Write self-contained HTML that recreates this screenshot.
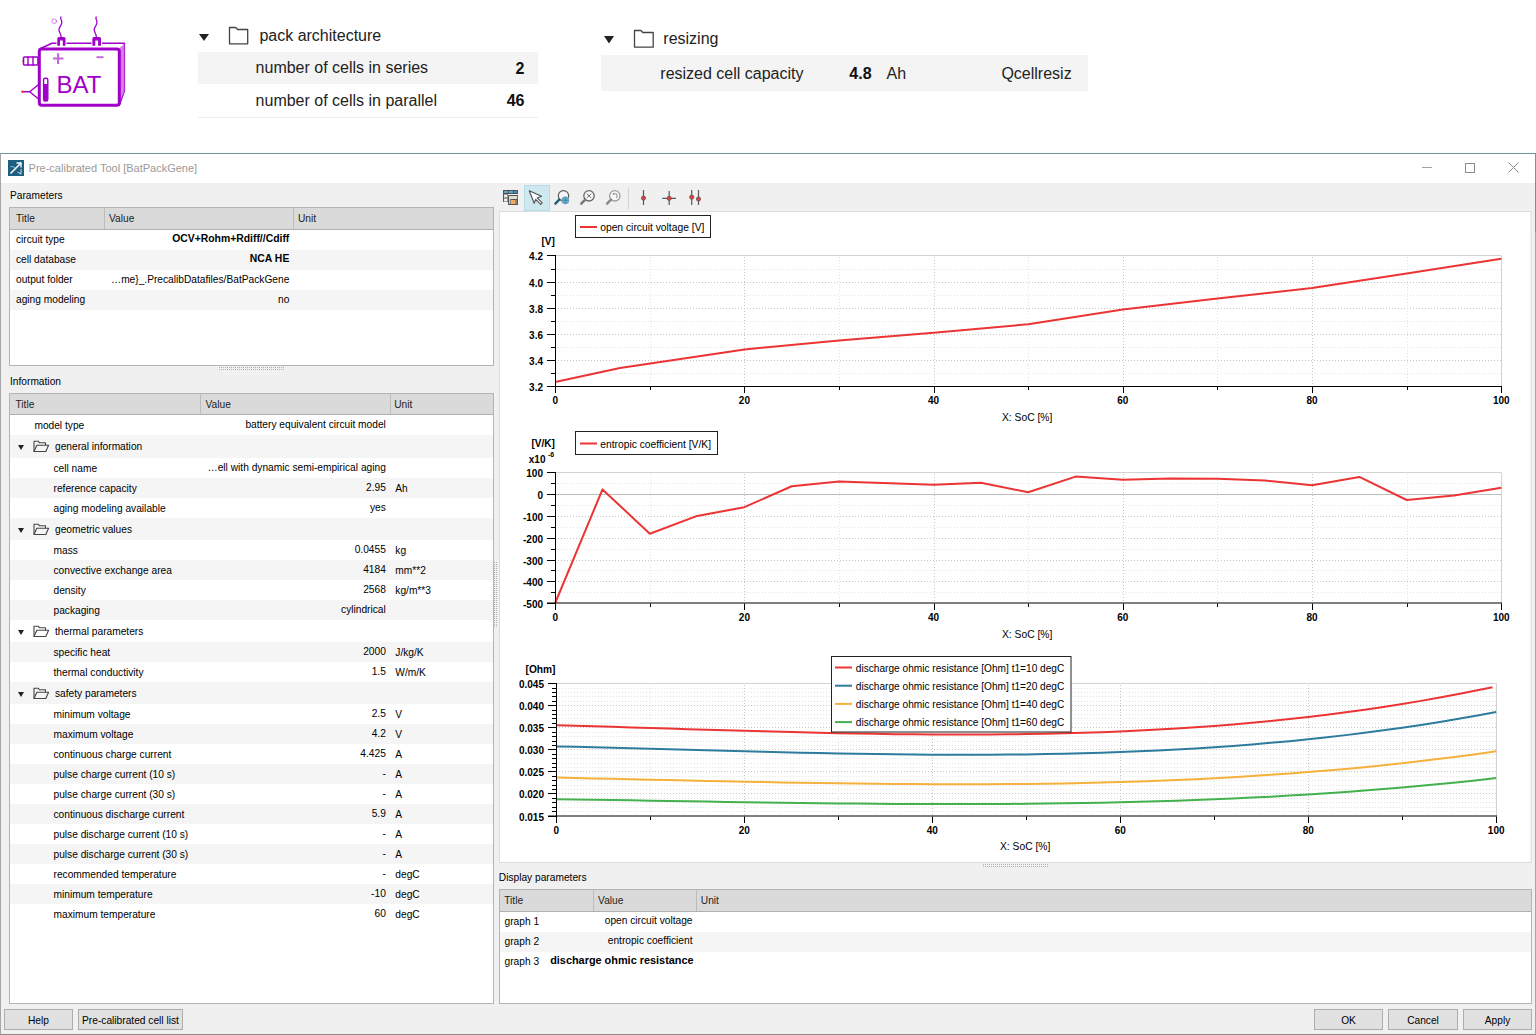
<!DOCTYPE html>
<html><head><meta charset="utf-8"><style>
html,body{margin:0;padding:0;}
body{width:1536px;height:1035px;overflow:hidden;position:relative;background:#fff;font-family:"Liberation Sans", sans-serif;}
.t{position:absolute;white-space:pre;line-height:1;}
.r{position:absolute;}
svg{position:absolute;overflow:visible;}
</style></head><body>

<svg style="left:0;top:0" width="140" height="120" viewBox="0 0 140 120">
<g fill="none" stroke="#a100c9" stroke-linejoin="round" stroke-linecap="round">
<path d="M39.5 49 L52 43.3 L124.3 43.3 L124.3 91 L119.3 105" stroke-width="1.6"/>
<path d="M119.5 48 L124.3 44 L124.3 91 L119.5 103 Z" fill="#d27ce6" stroke="none"/>
<rect x="39.3" y="49" width="80" height="56.3" rx="2.5" stroke-width="3"/>
<rect x="56.5" y="40" width="10" height="6" fill="#fff" stroke="none"/><path d="M57.3 45.8 V38.5 Q57.3 37 58.8 37 H64 Q65.5 37 65.5 38.5 V45.8 H62.8 V40.6 H60 V45.8 Z" fill="#a100c9" stroke="none"/>
<rect x="91.5" y="40" width="10.5" height="6" fill="#fff" stroke="none"/><path d="M92.4 45.8 V38.5 Q92.4 37 93.9 37 H99.5 Q101 37 101 38.5 V45.8 H98.1 V40.6 H95.3 V45.8 Z" fill="#a100c9" stroke="none"/>
<path d="M61.2 37 C61 33 58.5 32 59 29 C59.5 26 62 25.5 61.8 22 C61.6 19.5 59.8 18.5 61 17" stroke-width="1.3"/>
<path d="M96.4 37 C96.2 33 93.7 32 94.2 29 C94.7 26 97.2 25.5 97 22 C96.8 19.5 95 18.5 96.2 17" stroke-width="1.3"/>
<circle cx="54.2" cy="21.2" r="2.3" stroke-width="0.8" opacity="0.6"/>
<path d="M53 58.5 H63.5 M58.1 53.2 V64" stroke-width="2.2" stroke="#c568dc" stroke-linecap="butt"/>
<path d="M96.5 57.2 H103.5" stroke-width="2" stroke="#c568dc" stroke-linecap="butt"/>
<rect x="23.5" y="57" width="14.5" height="8" rx="1" stroke-width="1.6"/>
<path d="M28 57 V65 M33 57 V65" stroke-width="1.4"/>
<path d="M38 85 L29.7 91.7 L38 98.5 M22.5 91.7 H29.7" stroke-width="1.4"/>
<rect x="43.6" y="78.3" width="4.2" height="22.8" rx="1.5" stroke-width="1.4"/>
<rect x="43.6" y="84" width="4.2" height="17" rx="1" fill="#a100c9" stroke="none"/>
</g>
<circle cx="22.3" cy="91.7" r="1.1" fill="#ff2020"/>
<circle cx="23" cy="61" r="0.8" fill="#7a3a00"/>
<text x="56.5" y="92.7" font-family="Liberation Sans" font-size="24.5" fill="#a100c9" textLength="45" lengthAdjust="spacingAndGlyphs">BAT</text>
</svg>
<svg style="left:198.4px;top:33.0px" width="12" height="9"><path d="M1 1 H11 L6.0 8 Z" fill="#222"/></svg>
<svg style="left:227.6px;top:26.2px" width="21.2" height="19.3"><path d="M1.5 17.8 V1.5 H7.7 L9.6 3.5 H19.7 V17.8 Z" fill="none" stroke="#444" stroke-width="1.3" stroke-linejoin="round"/></svg>
<div class="t" style="left:259.40px;top:28.26px;font-size:16px;font-weight:400;color:#222;">pack architecture</div>
<div class="r" style="left:198px;top:52px;width:340px;height:32px;background:#f4f4f4;"></div>
<div class="t" style="left:255.60px;top:60.16px;font-size:16px;font-weight:400;color:#222;">number of cells in series</div>
<div class="t" style="right:1011.50px;top:60.66px;font-size:16px;font-weight:700;color:#111;text-align:right;">2</div>
<div class="t" style="left:255.60px;top:92.56px;font-size:16px;font-weight:400;color:#222;">number of cells in parallel</div>
<div class="t" style="right:1011.50px;top:92.56px;font-size:16px;font-weight:700;color:#111;text-align:right;">46</div>
<div class="r" style="left:198px;top:117px;width:340px;height:1px;background:#ececec;"></div>
<svg style="left:603.2px;top:34.75px" width="12" height="9.5"><path d="M1 1 H11 L6.0 8.5 Z" fill="#222"/></svg>
<svg style="left:632.8px;top:29px" width="21.7" height="19.7"><path d="M1.5 18.2 V1.5 H7.9 L9.8 3.5 H20.2 V18.2 Z" fill="none" stroke="#444" stroke-width="1.3" stroke-linejoin="round"/></svg>
<div class="t" style="left:663.30px;top:31.16px;font-size:16px;font-weight:400;color:#222;">resizing</div>
<div class="r" style="left:601px;top:55px;width:487px;height:36px;background:#f4f4f4;"></div>
<div class="t" style="left:660.30px;top:66.16px;font-size:16px;font-weight:400;color:#222;">resized cell capacity</div>
<div class="t" style="left:849.30px;top:65.76px;font-size:16px;font-weight:700;color:#111;">4.8</div>
<div class="t" style="left:886.60px;top:65.76px;font-size:16px;font-weight:400;color:#222;">Ah</div>
<div class="t" style="left:1001.40px;top:65.76px;font-size:16px;font-weight:400;color:#222;">Qcellresiz</div>
<div class="r" style="left:0px;top:153px;width:1536px;height:882px;background:#f0f0f0;"></div>
<div class="r" style="left:0px;top:154px;width:1536px;height:29px;background:#ffffff;"></div>
<div class="r" style="left:0px;top:153px;width:1536px;height:1px;background:#6f93a5;"></div>
<div class="r" style="left:0px;top:153px;width:1px;height:882px;background:#a6a6a6;"></div>
<div class="r" style="left:1535px;top:153px;width:1px;height:79px;background:#6f93a5;"></div>
<div class="r" style="left:1535px;top:232px;width:1px;height:803px;background:#a6a6a6;"></div>
<div class="r" style="left:0px;top:1034px;width:1536px;height:1px;background:#8c8c8c;"></div>
<svg style="left:8px;top:159.5px" width="16" height="16" viewBox="0 0 16 16">
<rect x="0" y="0" width="16" height="16" fill="#1d5f83"/>
<path d="M2.5 13.5 L13 3" stroke="#fff" stroke-width="1.6"/>
<path d="M8.5 3 H13 V7.5" stroke="#fff" stroke-width="1.3" fill="none"/>
<path d="M13 9 V14 L9.5 12" stroke="#fff" stroke-width="1" fill="none" opacity="0.8"/>
<path d="M2.5 7 Q4 5.5 5.5 7 T8.5 7" stroke="#8fb8cf" stroke-width="1" fill="none"/>
</svg>
<div class="t" style="left:28.60px;top:162.69px;font-size:11px;font-weight:400;color:#9a9a9a;">Pre-calibrated Tool [BatPackGene]</div>
<div class="r" style="left:1422px;top:167px;width:10px;height:1px;background:#a0a0a0;"></div>
<div class="r" style="left:1465px;top:163px;width:10px;height:10px;background:none;border:1px solid #8a8a8a;box-sizing:border-box;"></div>
<svg style="left:1507px;top:161px" width="13" height="13"><path d="M1.5 1.5 L11.5 11.5 M11.5 1.5 L1.5 11.5" stroke="#8a8a8a" stroke-width="1"/></svg>
<div class="t" style="left:10.00px;top:191.17px;font-size:10.2px;font-weight:400;color:#000;">Parameters</div>
<div class="r" style="left:9px;top:207px;width:485px;height:159px;background:#fff;border:1px solid #b4b4b4;box-sizing:border-box;"></div>
<div class="r" style="left:10px;top:208px;width:483px;height:21px;background:#dadada;"></div>
<div class="r" style="left:10px;top:229px;width:483px;height:1px;background:#b0b0b0;"></div>
<div class="r" style="left:104px;top:208px;width:1px;height:21px;background:#bcbcbc;"></div>
<div class="r" style="left:293px;top:208px;width:1px;height:21px;background:#bcbcbc;"></div>
<div class="t" style="left:16.00px;top:214.17px;font-size:10.2px;font-weight:400;color:#222;">Title</div>
<div class="t" style="left:109.00px;top:214.17px;font-size:10.2px;font-weight:400;color:#222;">Value</div>
<div class="t" style="left:298.00px;top:214.17px;font-size:10.2px;font-weight:400;color:#222;">Unit</div>
<div class="t" style="left:16.00px;top:234.87px;font-size:10.2px;font-weight:400;color:#000;">circuit type</div>
<div class="t" style="right:1246.70px;top:234.40px;font-size:10.4px;font-weight:700;color:#000;text-align:right;">OCV+Rohm+Rdiff//Cdiff</div>
<div class="r" style="left:10px;top:250px;width:483px;height:20px;background:#f5f5f5;"></div>
<div class="t" style="left:16.00px;top:254.87px;font-size:10.2px;font-weight:400;color:#000;">cell database</div>
<div class="t" style="right:1246.70px;top:254.40px;font-size:10.4px;font-weight:700;color:#000;text-align:right;">NCA HE</div>
<div class="t" style="left:16.00px;top:274.87px;font-size:10.2px;font-weight:400;color:#000;">output folder</div>
<div class="t" style="right:1246.70px;top:274.57px;font-size:10.2px;font-weight:400;color:#000;text-align:right;">…me}_.PrecalibDatafiles/BatPackGene</div>
<div class="r" style="left:10px;top:290px;width:483px;height:20px;background:#f5f5f5;"></div>
<div class="t" style="left:16.00px;top:294.87px;font-size:10.2px;font-weight:400;color:#000;">aging modeling</div>
<div class="t" style="right:1246.70px;top:294.57px;font-size:10.2px;font-weight:400;color:#000;text-align:right;">no</div>
<svg style="left:219px;top:367px" width="66" height="3"><g fill="#b2b2b2"><rect x="0" y="0" width="1" height="1"/><rect x="0" y="2" width="1" height="1"/><rect x="2" y="0" width="1" height="1"/><rect x="2" y="2" width="1" height="1"/><rect x="4" y="0" width="1" height="1"/><rect x="4" y="2" width="1" height="1"/><rect x="6" y="0" width="1" height="1"/><rect x="6" y="2" width="1" height="1"/><rect x="8" y="0" width="1" height="1"/><rect x="8" y="2" width="1" height="1"/><rect x="10" y="0" width="1" height="1"/><rect x="10" y="2" width="1" height="1"/><rect x="12" y="0" width="1" height="1"/><rect x="12" y="2" width="1" height="1"/><rect x="14" y="0" width="1" height="1"/><rect x="14" y="2" width="1" height="1"/><rect x="16" y="0" width="1" height="1"/><rect x="16" y="2" width="1" height="1"/><rect x="18" y="0" width="1" height="1"/><rect x="18" y="2" width="1" height="1"/><rect x="20" y="0" width="1" height="1"/><rect x="20" y="2" width="1" height="1"/><rect x="22" y="0" width="1" height="1"/><rect x="22" y="2" width="1" height="1"/><rect x="24" y="0" width="1" height="1"/><rect x="24" y="2" width="1" height="1"/><rect x="26" y="0" width="1" height="1"/><rect x="26" y="2" width="1" height="1"/><rect x="28" y="0" width="1" height="1"/><rect x="28" y="2" width="1" height="1"/><rect x="30" y="0" width="1" height="1"/><rect x="30" y="2" width="1" height="1"/><rect x="32" y="0" width="1" height="1"/><rect x="32" y="2" width="1" height="1"/><rect x="34" y="0" width="1" height="1"/><rect x="34" y="2" width="1" height="1"/><rect x="36" y="0" width="1" height="1"/><rect x="36" y="2" width="1" height="1"/><rect x="38" y="0" width="1" height="1"/><rect x="38" y="2" width="1" height="1"/><rect x="40" y="0" width="1" height="1"/><rect x="40" y="2" width="1" height="1"/><rect x="42" y="0" width="1" height="1"/><rect x="42" y="2" width="1" height="1"/><rect x="44" y="0" width="1" height="1"/><rect x="44" y="2" width="1" height="1"/><rect x="46" y="0" width="1" height="1"/><rect x="46" y="2" width="1" height="1"/><rect x="48" y="0" width="1" height="1"/><rect x="48" y="2" width="1" height="1"/><rect x="50" y="0" width="1" height="1"/><rect x="50" y="2" width="1" height="1"/><rect x="52" y="0" width="1" height="1"/><rect x="52" y="2" width="1" height="1"/><rect x="54" y="0" width="1" height="1"/><rect x="54" y="2" width="1" height="1"/><rect x="56" y="0" width="1" height="1"/><rect x="56" y="2" width="1" height="1"/><rect x="58" y="0" width="1" height="1"/><rect x="58" y="2" width="1" height="1"/><rect x="60" y="0" width="1" height="1"/><rect x="60" y="2" width="1" height="1"/><rect x="62" y="0" width="1" height="1"/><rect x="62" y="2" width="1" height="1"/><rect x="64" y="0" width="1" height="1"/><rect x="64" y="2" width="1" height="1"/></g></svg>
<div class="t" style="left:10.00px;top:376.57px;font-size:10.2px;font-weight:400;color:#000;">Information</div>
<div class="r" style="left:9px;top:393px;width:485px;height:611px;background:#fff;border:1px solid #b4b4b4;box-sizing:border-box;"></div>
<div class="r" style="left:10px;top:394px;width:483px;height:20px;background:#dadada;"></div>
<div class="r" style="left:10px;top:414px;width:483px;height:1px;background:#b0b0b0;"></div>
<div class="r" style="left:200px;top:394px;width:1px;height:20px;background:#bcbcbc;"></div>
<div class="r" style="left:390px;top:394px;width:1px;height:20px;background:#bcbcbc;"></div>
<div class="t" style="left:15.50px;top:399.97px;font-size:10.2px;font-weight:400;color:#222;">Title</div>
<div class="t" style="left:205.50px;top:399.97px;font-size:10.2px;font-weight:400;color:#222;">Value</div>
<div class="t" style="left:394.20px;top:399.97px;font-size:10.2px;font-weight:400;color:#222;">Unit</div>
<div class="t" style="left:34.40px;top:421.37px;font-size:10.2px;font-weight:400;color:#000;">model type</div>
<div class="t" style="right:1150.20px;top:419.97px;font-size:10.2px;font-weight:400;color:#000;text-align:right;">battery equivalent circuit model</div>
<div class="r" style="left:10px;top:435px;width:483px;height:23px;background:#f5f5f5;"></div>
<svg style="left:16.6px;top:444.0px" width="8" height="7"><path d="M1 1 H7 L4.0 6 Z" fill="#222"/></svg>
<svg style="left:33px;top:440px" width="17" height="13" viewBox="0 0 17 13"><path d="M1 11.5 V1.2 H5.2 L6.6 2.8 H12.5 V5" fill="none" stroke="#444" stroke-width="1.1" stroke-linejoin="round"/><path d="M1 11.5 L3.8 5.2 H15.6 L12.8 11.5 Z" fill="none" stroke="#444" stroke-width="1.1" stroke-linejoin="round"/></svg>
<div class="t" style="left:55.00px;top:442.37px;font-size:10.2px;font-weight:400;color:#000;">general information</div>
<div class="t" style="left:53.50px;top:464.37px;font-size:10.2px;font-weight:400;color:#000;">cell name</div>
<div class="t" style="right:1150.20px;top:462.97px;font-size:10.2px;font-weight:400;color:#000;text-align:right;">…ell with dynamic semi-empirical aging</div>
<div class="r" style="left:10px;top:478px;width:483px;height:20px;background:#f5f5f5;"></div>
<div class="t" style="left:53.50px;top:484.37px;font-size:10.2px;font-weight:400;color:#000;">reference capacity</div>
<div class="t" style="right:1150.20px;top:482.97px;font-size:10.2px;font-weight:400;color:#000;text-align:right;">2.95</div>
<div class="t" style="left:395.30px;top:484.17px;font-size:10.2px;font-weight:400;color:#000;">Ah</div>
<div class="t" style="left:53.50px;top:504.37px;font-size:10.2px;font-weight:400;color:#000;">aging modeling available</div>
<div class="t" style="right:1150.20px;top:502.97px;font-size:10.2px;font-weight:400;color:#000;text-align:right;">yes</div>
<div class="r" style="left:10px;top:518px;width:483px;height:22px;background:#f5f5f5;"></div>
<svg style="left:16.6px;top:527.0px" width="8" height="7"><path d="M1 1 H7 L4.0 6 Z" fill="#222"/></svg>
<svg style="left:33px;top:523px" width="17" height="13" viewBox="0 0 17 13"><path d="M1 11.5 V1.2 H5.2 L6.6 2.8 H12.5 V5" fill="none" stroke="#444" stroke-width="1.1" stroke-linejoin="round"/><path d="M1 11.5 L3.8 5.2 H15.6 L12.8 11.5 Z" fill="none" stroke="#444" stroke-width="1.1" stroke-linejoin="round"/></svg>
<div class="t" style="left:55.00px;top:525.37px;font-size:10.2px;font-weight:400;color:#000;">geometric values</div>
<div class="t" style="left:53.50px;top:546.37px;font-size:10.2px;font-weight:400;color:#000;">mass</div>
<div class="t" style="right:1150.20px;top:544.97px;font-size:10.2px;font-weight:400;color:#000;text-align:right;">0.0455</div>
<div class="t" style="left:395.30px;top:546.17px;font-size:10.2px;font-weight:400;color:#000;">kg</div>
<div class="r" style="left:10px;top:560px;width:483px;height:20px;background:#f5f5f5;"></div>
<div class="t" style="left:53.50px;top:566.37px;font-size:10.2px;font-weight:400;color:#000;">convective exchange area</div>
<div class="t" style="right:1150.20px;top:564.97px;font-size:10.2px;font-weight:400;color:#000;text-align:right;">4184</div>
<div class="t" style="left:395.30px;top:566.17px;font-size:10.2px;font-weight:400;color:#000;">mm**2</div>
<div class="t" style="left:53.50px;top:586.37px;font-size:10.2px;font-weight:400;color:#000;">density</div>
<div class="t" style="right:1150.20px;top:584.97px;font-size:10.2px;font-weight:400;color:#000;text-align:right;">2568</div>
<div class="t" style="left:395.30px;top:586.17px;font-size:10.2px;font-weight:400;color:#000;">kg/m**3</div>
<div class="r" style="left:10px;top:600px;width:483px;height:20px;background:#f5f5f5;"></div>
<div class="t" style="left:53.50px;top:606.37px;font-size:10.2px;font-weight:400;color:#000;">packaging</div>
<div class="t" style="right:1150.20px;top:604.97px;font-size:10.2px;font-weight:400;color:#000;text-align:right;">cylindrical</div>
<svg style="left:16.6px;top:629.0px" width="8" height="7"><path d="M1 1 H7 L4.0 6 Z" fill="#222"/></svg>
<svg style="left:33px;top:625px" width="17" height="13" viewBox="0 0 17 13"><path d="M1 11.5 V1.2 H5.2 L6.6 2.8 H12.5 V5" fill="none" stroke="#444" stroke-width="1.1" stroke-linejoin="round"/><path d="M1 11.5 L3.8 5.2 H15.6 L12.8 11.5 Z" fill="none" stroke="#444" stroke-width="1.1" stroke-linejoin="round"/></svg>
<div class="t" style="left:55.00px;top:627.37px;font-size:10.2px;font-weight:400;color:#000;">thermal parameters</div>
<div class="r" style="left:10px;top:642px;width:483px;height:20px;background:#f5f5f5;"></div>
<div class="t" style="left:53.50px;top:648.37px;font-size:10.2px;font-weight:400;color:#000;">specific heat</div>
<div class="t" style="right:1150.20px;top:646.97px;font-size:10.2px;font-weight:400;color:#000;text-align:right;">2000</div>
<div class="t" style="left:395.30px;top:648.17px;font-size:10.2px;font-weight:400;color:#000;">J/kg/K</div>
<div class="t" style="left:53.50px;top:668.37px;font-size:10.2px;font-weight:400;color:#000;">thermal conductivity</div>
<div class="t" style="right:1150.20px;top:666.97px;font-size:10.2px;font-weight:400;color:#000;text-align:right;">1.5</div>
<div class="t" style="left:395.30px;top:668.17px;font-size:10.2px;font-weight:400;color:#000;">W/m/K</div>
<div class="r" style="left:10px;top:682px;width:483px;height:22px;background:#f5f5f5;"></div>
<svg style="left:16.6px;top:691.0px" width="8" height="7"><path d="M1 1 H7 L4.0 6 Z" fill="#222"/></svg>
<svg style="left:33px;top:687px" width="17" height="13" viewBox="0 0 17 13"><path d="M1 11.5 V1.2 H5.2 L6.6 2.8 H12.5 V5" fill="none" stroke="#444" stroke-width="1.1" stroke-linejoin="round"/><path d="M1 11.5 L3.8 5.2 H15.6 L12.8 11.5 Z" fill="none" stroke="#444" stroke-width="1.1" stroke-linejoin="round"/></svg>
<div class="t" style="left:55.00px;top:689.37px;font-size:10.2px;font-weight:400;color:#000;">safety parameters</div>
<div class="t" style="left:53.50px;top:710.37px;font-size:10.2px;font-weight:400;color:#000;">minimum voltage</div>
<div class="t" style="right:1150.20px;top:708.97px;font-size:10.2px;font-weight:400;color:#000;text-align:right;">2.5</div>
<div class="t" style="left:395.30px;top:710.17px;font-size:10.2px;font-weight:400;color:#000;">V</div>
<div class="r" style="left:10px;top:724px;width:483px;height:20px;background:#f5f5f5;"></div>
<div class="t" style="left:53.50px;top:730.37px;font-size:10.2px;font-weight:400;color:#000;">maximum voltage</div>
<div class="t" style="right:1150.20px;top:728.97px;font-size:10.2px;font-weight:400;color:#000;text-align:right;">4.2</div>
<div class="t" style="left:395.30px;top:730.17px;font-size:10.2px;font-weight:400;color:#000;">V</div>
<div class="t" style="left:53.50px;top:750.37px;font-size:10.2px;font-weight:400;color:#000;">continuous charge current</div>
<div class="t" style="right:1150.20px;top:748.97px;font-size:10.2px;font-weight:400;color:#000;text-align:right;">4.425</div>
<div class="t" style="left:395.30px;top:750.17px;font-size:10.2px;font-weight:400;color:#000;">A</div>
<div class="r" style="left:10px;top:764px;width:483px;height:20px;background:#f5f5f5;"></div>
<div class="t" style="left:53.50px;top:770.37px;font-size:10.2px;font-weight:400;color:#000;">pulse charge current (10 s)</div>
<div class="t" style="right:1150.20px;top:768.97px;font-size:10.2px;font-weight:400;color:#000;text-align:right;">-</div>
<div class="t" style="left:395.30px;top:770.17px;font-size:10.2px;font-weight:400;color:#000;">A</div>
<div class="t" style="left:53.50px;top:790.37px;font-size:10.2px;font-weight:400;color:#000;">pulse charge current (30 s)</div>
<div class="t" style="right:1150.20px;top:788.97px;font-size:10.2px;font-weight:400;color:#000;text-align:right;">-</div>
<div class="t" style="left:395.30px;top:790.17px;font-size:10.2px;font-weight:400;color:#000;">A</div>
<div class="r" style="left:10px;top:804px;width:483px;height:20px;background:#f5f5f5;"></div>
<div class="t" style="left:53.50px;top:810.37px;font-size:10.2px;font-weight:400;color:#000;">continuous discharge current</div>
<div class="t" style="right:1150.20px;top:808.97px;font-size:10.2px;font-weight:400;color:#000;text-align:right;">5.9</div>
<div class="t" style="left:395.30px;top:810.17px;font-size:10.2px;font-weight:400;color:#000;">A</div>
<div class="t" style="left:53.50px;top:830.37px;font-size:10.2px;font-weight:400;color:#000;">pulse discharge current (10 s)</div>
<div class="t" style="right:1150.20px;top:828.97px;font-size:10.2px;font-weight:400;color:#000;text-align:right;">-</div>
<div class="t" style="left:395.30px;top:830.17px;font-size:10.2px;font-weight:400;color:#000;">A</div>
<div class="r" style="left:10px;top:844px;width:483px;height:20px;background:#f5f5f5;"></div>
<div class="t" style="left:53.50px;top:850.37px;font-size:10.2px;font-weight:400;color:#000;">pulse discharge current (30 s)</div>
<div class="t" style="right:1150.20px;top:848.97px;font-size:10.2px;font-weight:400;color:#000;text-align:right;">-</div>
<div class="t" style="left:395.30px;top:850.17px;font-size:10.2px;font-weight:400;color:#000;">A</div>
<div class="t" style="left:53.50px;top:870.37px;font-size:10.2px;font-weight:400;color:#000;">recommended temperature</div>
<div class="t" style="right:1150.20px;top:868.97px;font-size:10.2px;font-weight:400;color:#000;text-align:right;">-</div>
<div class="t" style="left:395.30px;top:870.17px;font-size:10.2px;font-weight:400;color:#000;">degC</div>
<div class="r" style="left:10px;top:884px;width:483px;height:20px;background:#f5f5f5;"></div>
<div class="t" style="left:53.50px;top:890.37px;font-size:10.2px;font-weight:400;color:#000;">minimum temperature</div>
<div class="t" style="right:1150.20px;top:888.97px;font-size:10.2px;font-weight:400;color:#000;text-align:right;">-10</div>
<div class="t" style="left:395.30px;top:890.17px;font-size:10.2px;font-weight:400;color:#000;">degC</div>
<div class="t" style="left:53.50px;top:910.37px;font-size:10.2px;font-weight:400;color:#000;">maximum temperature</div>
<div class="t" style="right:1150.20px;top:908.97px;font-size:10.2px;font-weight:400;color:#000;text-align:right;">60</div>
<div class="t" style="left:395.30px;top:910.17px;font-size:10.2px;font-weight:400;color:#000;">degC</div>
<div class="r" style="left:4px;top:1009px;width:69px;height:21px;background:#e1e1e1;border:1px solid #adadad;box-sizing:border-box;"></div>
<div class="t" style="left:-261.50px;width:600px;top:1015.67px;font-size:10.2px;font-weight:400;color:#000;text-align:center;">Help</div>
<div class="r" style="left:78px;top:1009px;width:105px;height:21px;background:#e1e1e1;border:1px solid #adadad;box-sizing:border-box;"></div>
<div class="t" style="left:-169.50px;width:600px;top:1015.67px;font-size:10.2px;font-weight:400;color:#000;text-align:center;">Pre-calibrated cell list</div>
<svg style="left:494px;top:562px" width="3" height="66"><g fill="#b2b2b2"><rect x="0" y="0" width="1" height="1"/><rect x="2" y="0" width="1" height="1"/><rect x="0" y="2" width="1" height="1"/><rect x="2" y="2" width="1" height="1"/><rect x="0" y="4" width="1" height="1"/><rect x="2" y="4" width="1" height="1"/><rect x="0" y="6" width="1" height="1"/><rect x="2" y="6" width="1" height="1"/><rect x="0" y="8" width="1" height="1"/><rect x="2" y="8" width="1" height="1"/><rect x="0" y="10" width="1" height="1"/><rect x="2" y="10" width="1" height="1"/><rect x="0" y="12" width="1" height="1"/><rect x="2" y="12" width="1" height="1"/><rect x="0" y="14" width="1" height="1"/><rect x="2" y="14" width="1" height="1"/><rect x="0" y="16" width="1" height="1"/><rect x="2" y="16" width="1" height="1"/><rect x="0" y="18" width="1" height="1"/><rect x="2" y="18" width="1" height="1"/><rect x="0" y="20" width="1" height="1"/><rect x="2" y="20" width="1" height="1"/><rect x="0" y="22" width="1" height="1"/><rect x="2" y="22" width="1" height="1"/><rect x="0" y="24" width="1" height="1"/><rect x="2" y="24" width="1" height="1"/><rect x="0" y="26" width="1" height="1"/><rect x="2" y="26" width="1" height="1"/><rect x="0" y="28" width="1" height="1"/><rect x="2" y="28" width="1" height="1"/><rect x="0" y="30" width="1" height="1"/><rect x="2" y="30" width="1" height="1"/><rect x="0" y="32" width="1" height="1"/><rect x="2" y="32" width="1" height="1"/><rect x="0" y="34" width="1" height="1"/><rect x="2" y="34" width="1" height="1"/><rect x="0" y="36" width="1" height="1"/><rect x="2" y="36" width="1" height="1"/><rect x="0" y="38" width="1" height="1"/><rect x="2" y="38" width="1" height="1"/><rect x="0" y="40" width="1" height="1"/><rect x="2" y="40" width="1" height="1"/><rect x="0" y="42" width="1" height="1"/><rect x="2" y="42" width="1" height="1"/><rect x="0" y="44" width="1" height="1"/><rect x="2" y="44" width="1" height="1"/><rect x="0" y="46" width="1" height="1"/><rect x="2" y="46" width="1" height="1"/><rect x="0" y="48" width="1" height="1"/><rect x="2" y="48" width="1" height="1"/><rect x="0" y="50" width="1" height="1"/><rect x="2" y="50" width="1" height="1"/><rect x="0" y="52" width="1" height="1"/><rect x="2" y="52" width="1" height="1"/><rect x="0" y="54" width="1" height="1"/><rect x="2" y="54" width="1" height="1"/><rect x="0" y="56" width="1" height="1"/><rect x="2" y="56" width="1" height="1"/><rect x="0" y="58" width="1" height="1"/><rect x="2" y="58" width="1" height="1"/><rect x="0" y="60" width="1" height="1"/><rect x="2" y="60" width="1" height="1"/><rect x="0" y="62" width="1" height="1"/><rect x="2" y="62" width="1" height="1"/><rect x="0" y="64" width="1" height="1"/><rect x="2" y="64" width="1" height="1"/></g></svg>
<svg style="left:0;top:0" width="1536" height="1035" viewBox="0 0 1536 1035">
<rect x="499.5" y="211.5" width="1031.5" height="651" fill="#fff" stroke="#dcdcdc" stroke-width="1"/>
<rect x="524.5" y="185.5" width="25" height="25" fill="#cde8ef" stroke="#b5dde8" stroke-width="1"/>
<g transform="translate(503,190)"><rect x="0" y="0" width="15" height="4" fill="#505050"/><rect x="1" y="1" width="4" height="2" fill="#56a8cf"/><rect x="6" y="1" width="4" height="2" fill="#56a8cf"/><rect x="11" y="1" width="3" height="2" fill="#3f95be"/><rect x="0" y="4" width="5" height="8" fill="#585858"/><rect x="1" y="4.5" width="3.5" height="3" fill="#ecece6"/><rect x="1" y="8.5" width="3.5" height="3" fill="#ecece6"/><rect x="5" y="5" width="10" height="10" fill="#555"/><rect x="6" y="6" width="8.2" height="3" fill="#dcdcd4"/><rect x="6" y="9" width="1.5" height="5" fill="#c4c4b8"/><rect x="8" y="10" width="4" height="4" fill="#f4a860"/><rect x="12" y="10" width="2" height="4" fill="#8a8a80"/></g>
<path d="M529.2 190.8 L541.5 196.3 L537.2 197.9 L542.2 202.8 L540.6 204.3 L535.7 199.4 L534.2 203.2 Z" fill="#fff" stroke="#505050" stroke-width="1.1" stroke-linejoin="round"/>
<g><circle cx="563.5" cy="195.8" r="5.2" fill="#f4f6f7" stroke="#5a5a5a" stroke-width="1.2"/><circle cx="565.3" cy="200.3" r="3.9" fill="#6aa9c6"/><path d="M562.5 200.3 H568.1 M565.3 196.8 V203.8" stroke="#3f7f9f" stroke-width="0.7"/><path d="M559.2 199.6 L555.4 203.6" stroke="#1d5f7a" stroke-width="2.4" stroke-linecap="round"/></g>
<g><circle cx="589" cy="195.8" r="5.2" fill="#f6f6f6" stroke="#666" stroke-width="1.3"/><path d="M587 193.8 L591 197.8 M591 193.8 L587 197.8" stroke="#666" stroke-width="1"/><path d="M585.2 199.7 L581.3 203.6" stroke="#777" stroke-width="2.5" stroke-linecap="round"/></g>
<g><circle cx="614.8" cy="195.8" r="5.2" fill="#fafafa" stroke="#9c9c9c" stroke-width="1.3"/><path d="M613.3 193.6 Q617.3 193.2 617.2 196.3 L616.2 198" stroke="#999" stroke-width="1.1" fill="none"/><path d="M612.2 194.2 L614.2 192.4 L614.3 195.3 Z" fill="#999"/><path d="M611 199.7 L607.1 203.6" stroke="#8a8a8a" stroke-width="2.5" stroke-linecap="round"/></g>
<rect x="628" y="188" width="1" height="21" fill="#d2d2d2"/>
<path d="M643.5 190 V205" stroke="#585858" stroke-width="1.2"/><circle cx="643.5" cy="198.1" r="2.1" fill="#ee3a3a" stroke="#555" stroke-width="0.8"/>
<path d="M669.2 191 V205 M662.3 198.3 H675.9" stroke="#585858" stroke-width="1.2"/><circle cx="669.2" cy="198.3" r="2.1" fill="#ee3a3a" stroke="#555" stroke-width="0.8"/>
<path d="M691.7 190 V205 M698.5 190 V205" stroke="#585858" stroke-width="1.2"/><circle cx="691.7" cy="197.2" r="2.1" fill="#ee3a3a" stroke="#555" stroke-width="0.8"/><circle cx="698.5" cy="199" r="2.1" fill="#ee3a3a" stroke="#555" stroke-width="0.8"/>
<path d="M558 373.5 H1501" stroke="#e4e4e4" stroke-width="1" stroke-dasharray="1 2"/>
<path d="M558 360.5 H1501" stroke="#c6c6c6" stroke-width="1" stroke-dasharray="1 2"/>
<path d="M558 347.5 H1501" stroke="#e4e4e4" stroke-width="1" stroke-dasharray="1 2"/>
<path d="M558 334.5 H1501" stroke="#c6c6c6" stroke-width="1" stroke-dasharray="1 2"/>
<path d="M558 321.5 H1501" stroke="#e4e4e4" stroke-width="1" stroke-dasharray="1 2"/>
<path d="M558 308.5 H1501" stroke="#c6c6c6" stroke-width="1" stroke-dasharray="1 2"/>
<path d="M558 295.5 H1501" stroke="#e4e4e4" stroke-width="1" stroke-dasharray="1 2"/>
<path d="M558 282.5 H1501" stroke="#c6c6c6" stroke-width="1" stroke-dasharray="1 2"/>
<path d="M558 269.5 H1501" stroke="#e4e4e4" stroke-width="1" stroke-dasharray="1 2"/>
<path d="M650.5 257 V386" stroke="#e4e4e4" stroke-width="1" stroke-dasharray="1 2"/>
<path d="M744.5 257 V386" stroke="#c6c6c6" stroke-width="1" stroke-dasharray="1 2"/>
<path d="M839.5 257 V386" stroke="#e4e4e4" stroke-width="1" stroke-dasharray="1 2"/>
<path d="M934.5 257 V386" stroke="#c6c6c6" stroke-width="1" stroke-dasharray="1 2"/>
<path d="M1028.5 257 V386" stroke="#e4e4e4" stroke-width="1" stroke-dasharray="1 2"/>
<path d="M1123.5 257 V386" stroke="#c6c6c6" stroke-width="1" stroke-dasharray="1 2"/>
<path d="M1217.5 257 V386" stroke="#e4e4e4" stroke-width="1" stroke-dasharray="1 2"/>
<path d="M1312.5 257 V386" stroke="#c6c6c6" stroke-width="1" stroke-dasharray="1 2"/>
<path d="M1407.5 257 V386" stroke="#e4e4e4" stroke-width="1" stroke-dasharray="1 2"/>
<path d="M555.5 255.5 H1501.5 V386" stroke="#d2d2d2" stroke-width="1" fill="none"/>
<path d="M555.20 382.00 L620.01 368.10 L744.42 349.40 L839.03 340.60 L933.64 332.80 L1028.25 324.20 L1122.86 309.40 L1217.47 298.40 L1312.08 288.10 L1406.69 273.40 L1501.30 258.75" stroke="#ec3434" stroke-width="2" fill="none" stroke-linejoin="round"/>
<path d="M555.5 255 V393.0" stroke="#000" stroke-width="1" fill="none"/>
<path d="M547.0 386.5 H1502" stroke="#000" stroke-width="1" fill="none"/>
<path d="M547.0 386.5 H555.5" stroke="#000" stroke-width="1"/>
<path d="M547.0 360.5 H555.5" stroke="#000" stroke-width="1"/>
<path d="M547.0 334.5 H555.5" stroke="#000" stroke-width="1"/>
<path d="M547.0 308.5 H555.5" stroke="#000" stroke-width="1"/>
<path d="M547.0 282.5 H555.5" stroke="#000" stroke-width="1"/>
<path d="M547.0 255.5 H555.5" stroke="#000" stroke-width="1"/>
<path d="M551.0 373.5 H555.5" stroke="#000" stroke-width="1"/>
<path d="M551.0 347.5 H555.5" stroke="#000" stroke-width="1"/>
<path d="M551.0 321.5 H555.5" stroke="#000" stroke-width="1"/>
<path d="M551.0 295.5 H555.5" stroke="#000" stroke-width="1"/>
<path d="M551.0 269.5 H555.5" stroke="#000" stroke-width="1"/>
<path d="M555.5 386.5 V393.0" stroke="#000" stroke-width="1"/>
<path d="M650.5 386.5 V390.0" stroke="#000" stroke-width="1"/>
<path d="M744.5 386.5 V393.0" stroke="#000" stroke-width="1"/>
<path d="M839.5 386.5 V390.0" stroke="#000" stroke-width="1"/>
<path d="M934.5 386.5 V393.0" stroke="#000" stroke-width="1"/>
<path d="M1028.5 386.5 V390.0" stroke="#000" stroke-width="1"/>
<path d="M1123.5 386.5 V393.0" stroke="#000" stroke-width="1"/>
<path d="M1217.5 386.5 V390.0" stroke="#000" stroke-width="1"/>
<path d="M1312.5 386.5 V393.0" stroke="#000" stroke-width="1"/>
<path d="M1407.5 386.5 V390.0" stroke="#000" stroke-width="1"/>
<path d="M1501.5 386.5 V393.0" stroke="#000" stroke-width="1"/>
<text x="543.0" y="390.80" text-anchor="end" font-family="Liberation Sans" font-weight="700" font-size="10" fill="#000">3.2</text>
<text x="543.0" y="364.80" text-anchor="end" font-family="Liberation Sans" font-weight="700" font-size="10" fill="#000">3.4</text>
<text x="543.0" y="338.80" text-anchor="end" font-family="Liberation Sans" font-weight="700" font-size="10" fill="#000">3.6</text>
<text x="543.0" y="312.80" text-anchor="end" font-family="Liberation Sans" font-weight="700" font-size="10" fill="#000">3.8</text>
<text x="543.0" y="286.80" text-anchor="end" font-family="Liberation Sans" font-weight="700" font-size="10" fill="#000">4.0</text>
<text x="543.0" y="259.80" text-anchor="end" font-family="Liberation Sans" font-weight="700" font-size="10" fill="#000">4.2</text>
<text x="555.20" y="404.0" text-anchor="middle" font-family="Liberation Sans" font-weight="700" font-size="10" fill="#000">0</text>
<text x="744.42" y="404.0" text-anchor="middle" font-family="Liberation Sans" font-weight="700" font-size="10" fill="#000">20</text>
<text x="933.64" y="404.0" text-anchor="middle" font-family="Liberation Sans" font-weight="700" font-size="10" fill="#000">40</text>
<text x="1122.86" y="404.0" text-anchor="middle" font-family="Liberation Sans" font-weight="700" font-size="10" fill="#000">60</text>
<text x="1312.08" y="404.0" text-anchor="middle" font-family="Liberation Sans" font-weight="700" font-size="10" fill="#000">80</text>
<text x="1501.30" y="404.0" text-anchor="middle" font-family="Liberation Sans" font-weight="700" font-size="10" fill="#000">100</text>
<text x="1027.15" y="420.5" text-anchor="middle" font-family="Liberation Sans" font-size="10.3" fill="#000">X: SoC [%]</text>
<rect x="575.5" y="215.5" width="135" height="22" fill="#fff" stroke="#222" stroke-width="1"/>
<path d="M580 227 H597" stroke="#ec3434" stroke-width="2"/>
<text x="600.2" y="231" font-family="Liberation Sans" font-size="10.3" fill="#000">open circuit voltage [V]</text>
<text x="554.8" y="244.5" text-anchor="end" font-family="Liberation Sans" font-weight="700" font-size="10" fill="#000">[V]</text>
<path d="M558 592.5 H1501" stroke="#e4e4e4" stroke-width="1" stroke-dasharray="1 2"/>
<path d="M558 581.5 H1501" stroke="#c6c6c6" stroke-width="1" stroke-dasharray="1 2"/>
<path d="M558 570.5 H1501" stroke="#e4e4e4" stroke-width="1" stroke-dasharray="1 2"/>
<path d="M558 560.5 H1501" stroke="#c6c6c6" stroke-width="1" stroke-dasharray="1 2"/>
<path d="M558 549.5 H1501" stroke="#e4e4e4" stroke-width="1" stroke-dasharray="1 2"/>
<path d="M558 538.5 H1501" stroke="#c6c6c6" stroke-width="1" stroke-dasharray="1 2"/>
<path d="M558 527.5 H1501" stroke="#e4e4e4" stroke-width="1" stroke-dasharray="1 2"/>
<path d="M558 516.5 H1501" stroke="#c6c6c6" stroke-width="1" stroke-dasharray="1 2"/>
<path d="M558 505.5 H1501" stroke="#e4e4e4" stroke-width="1" stroke-dasharray="1 2"/>
<path d="M558 494.5 H1501" stroke="#c6c6c6" stroke-width="1" stroke-dasharray="1 2"/>
<path d="M558 483.5 H1501" stroke="#e4e4e4" stroke-width="1" stroke-dasharray="1 2"/>
<path d="M650.5 474 V603" stroke="#e4e4e4" stroke-width="1" stroke-dasharray="1 2"/>
<path d="M744.5 474 V603" stroke="#c6c6c6" stroke-width="1" stroke-dasharray="1 2"/>
<path d="M839.5 474 V603" stroke="#e4e4e4" stroke-width="1" stroke-dasharray="1 2"/>
<path d="M934.5 474 V603" stroke="#c6c6c6" stroke-width="1" stroke-dasharray="1 2"/>
<path d="M1028.5 474 V603" stroke="#e4e4e4" stroke-width="1" stroke-dasharray="1 2"/>
<path d="M1123.5 474 V603" stroke="#c6c6c6" stroke-width="1" stroke-dasharray="1 2"/>
<path d="M1217.5 474 V603" stroke="#e4e4e4" stroke-width="1" stroke-dasharray="1 2"/>
<path d="M1312.5 474 V603" stroke="#c6c6c6" stroke-width="1" stroke-dasharray="1 2"/>
<path d="M1407.5 474 V603" stroke="#e4e4e4" stroke-width="1" stroke-dasharray="1 2"/>
<path d="M555.5 472.5 H1501.5 V603" stroke="#d2d2d2" stroke-width="1" fill="none"/>
<path d="M555 494.5 H1501" stroke="#bdbdbd" stroke-width="1"/>
<path d="M555.20 603.00 L602.50 489.40 L649.81 533.75 L697.12 515.90 L744.42 507.20 L791.73 486.25 L839.03 481.60 L933.64 484.70 L980.94 482.80 L1028.25 492.20 L1075.55 476.60 L1122.86 479.70 L1170.16 478.40 L1217.47 478.75 L1264.78 480.60 L1312.08 485.30 L1359.38 476.90 L1406.69 500.00 L1453.99 495.60 L1501.30 487.80" stroke="#ec3434" stroke-width="2" fill="none" stroke-linejoin="round"/>
<path d="M555.5 472 V610.0" stroke="#000" stroke-width="1" fill="none"/>
<path d="M547.0 603.0 H1502" stroke="#000" stroke-width="1" fill="none"/>
<path d="M547.0 603.5 H555.5" stroke="#000" stroke-width="1"/>
<path d="M547.0 581.5 H555.5" stroke="#000" stroke-width="1"/>
<path d="M547.0 560.5 H555.5" stroke="#000" stroke-width="1"/>
<path d="M547.0 538.5 H555.5" stroke="#000" stroke-width="1"/>
<path d="M547.0 516.5 H555.5" stroke="#000" stroke-width="1"/>
<path d="M547.0 494.5 H555.5" stroke="#000" stroke-width="1"/>
<path d="M547.0 472.5 H555.5" stroke="#000" stroke-width="1"/>
<path d="M551.0 592.5 H555.5" stroke="#000" stroke-width="1"/>
<path d="M551.0 570.5 H555.5" stroke="#000" stroke-width="1"/>
<path d="M551.0 549.5 H555.5" stroke="#000" stroke-width="1"/>
<path d="M551.0 527.5 H555.5" stroke="#000" stroke-width="1"/>
<path d="M551.0 505.5 H555.5" stroke="#000" stroke-width="1"/>
<path d="M551.0 483.5 H555.5" stroke="#000" stroke-width="1"/>
<path d="M555.5 603.5 V610.0" stroke="#000" stroke-width="1"/>
<path d="M650.5 603.5 V607.0" stroke="#000" stroke-width="1"/>
<path d="M744.5 603.5 V610.0" stroke="#000" stroke-width="1"/>
<path d="M839.5 603.5 V607.0" stroke="#000" stroke-width="1"/>
<path d="M934.5 603.5 V610.0" stroke="#000" stroke-width="1"/>
<path d="M1028.5 603.5 V607.0" stroke="#000" stroke-width="1"/>
<path d="M1123.5 603.5 V610.0" stroke="#000" stroke-width="1"/>
<path d="M1217.5 603.5 V607.0" stroke="#000" stroke-width="1"/>
<path d="M1312.5 603.5 V610.0" stroke="#000" stroke-width="1"/>
<path d="M1407.5 603.5 V607.0" stroke="#000" stroke-width="1"/>
<path d="M1501.5 603.5 V610.0" stroke="#000" stroke-width="1"/>
<text x="543.0" y="607.80" text-anchor="end" font-family="Liberation Sans" font-weight="700" font-size="10" fill="#000">-500</text>
<text x="543.0" y="585.80" text-anchor="end" font-family="Liberation Sans" font-weight="700" font-size="10" fill="#000">-400</text>
<text x="543.0" y="564.80" text-anchor="end" font-family="Liberation Sans" font-weight="700" font-size="10" fill="#000">-300</text>
<text x="543.0" y="542.80" text-anchor="end" font-family="Liberation Sans" font-weight="700" font-size="10" fill="#000">-200</text>
<text x="543.0" y="520.80" text-anchor="end" font-family="Liberation Sans" font-weight="700" font-size="10" fill="#000">-100</text>
<text x="543.0" y="498.80" text-anchor="end" font-family="Liberation Sans" font-weight="700" font-size="10" fill="#000">0</text>
<text x="543.0" y="476.80" text-anchor="end" font-family="Liberation Sans" font-weight="700" font-size="10" fill="#000">100</text>
<text x="555.20" y="621.0" text-anchor="middle" font-family="Liberation Sans" font-weight="700" font-size="10" fill="#000">0</text>
<text x="744.42" y="621.0" text-anchor="middle" font-family="Liberation Sans" font-weight="700" font-size="10" fill="#000">20</text>
<text x="933.64" y="621.0" text-anchor="middle" font-family="Liberation Sans" font-weight="700" font-size="10" fill="#000">40</text>
<text x="1122.86" y="621.0" text-anchor="middle" font-family="Liberation Sans" font-weight="700" font-size="10" fill="#000">60</text>
<text x="1312.08" y="621.0" text-anchor="middle" font-family="Liberation Sans" font-weight="700" font-size="10" fill="#000">80</text>
<text x="1501.30" y="621.0" text-anchor="middle" font-family="Liberation Sans" font-weight="700" font-size="10" fill="#000">100</text>
<text x="1027.15" y="637.5" text-anchor="middle" font-family="Liberation Sans" font-size="10.3" fill="#000">X: SoC [%]</text>
<rect x="575.5" y="431.5" width="142" height="23" fill="#fff" stroke="#222" stroke-width="1"/>
<path d="M580 443.5 H597" stroke="#ec3434" stroke-width="2"/>
<text x="600.2" y="447.5" font-family="Liberation Sans" font-size="10.3" fill="#000">entropic coefficient [V/K]</text>
<text x="554.8" y="446.8" text-anchor="end" font-family="Liberation Sans" font-weight="700" font-size="10" fill="#000">[V/K]</text>
<text x="528.8" y="462.8" font-family="Liberation Sans" font-weight="700" font-size="10" fill="#000">x10</text>
<text x="548" y="456.5" font-family="Liberation Sans" font-weight="700" font-size="7" fill="#000">-6</text>
<path d="M559 811.5 H1496" stroke="#e4e4e4" stroke-width="1" stroke-dasharray="1 2"/>
<path d="M559 807.5 H1496" stroke="#e4e4e4" stroke-width="1" stroke-dasharray="1 2"/>
<path d="M559 802.5 H1496" stroke="#e4e4e4" stroke-width="1" stroke-dasharray="1 2"/>
<path d="M559 798.5 H1496" stroke="#e4e4e4" stroke-width="1" stroke-dasharray="1 2"/>
<path d="M559 793.5 H1496" stroke="#c6c6c6" stroke-width="1" stroke-dasharray="1 2"/>
<path d="M559 789.5 H1496" stroke="#e4e4e4" stroke-width="1" stroke-dasharray="1 2"/>
<path d="M559 785.5 H1496" stroke="#e4e4e4" stroke-width="1" stroke-dasharray="1 2"/>
<path d="M559 780.5 H1496" stroke="#e4e4e4" stroke-width="1" stroke-dasharray="1 2"/>
<path d="M559 776.5 H1496" stroke="#e4e4e4" stroke-width="1" stroke-dasharray="1 2"/>
<path d="M559 771.5 H1496" stroke="#c6c6c6" stroke-width="1" stroke-dasharray="1 2"/>
<path d="M559 767.5 H1496" stroke="#e4e4e4" stroke-width="1" stroke-dasharray="1 2"/>
<path d="M559 763.5 H1496" stroke="#e4e4e4" stroke-width="1" stroke-dasharray="1 2"/>
<path d="M559 758.5 H1496" stroke="#e4e4e4" stroke-width="1" stroke-dasharray="1 2"/>
<path d="M559 754.5 H1496" stroke="#e4e4e4" stroke-width="1" stroke-dasharray="1 2"/>
<path d="M559 749.5 H1496" stroke="#c6c6c6" stroke-width="1" stroke-dasharray="1 2"/>
<path d="M559 745.5 H1496" stroke="#e4e4e4" stroke-width="1" stroke-dasharray="1 2"/>
<path d="M559 741.5 H1496" stroke="#e4e4e4" stroke-width="1" stroke-dasharray="1 2"/>
<path d="M559 736.5 H1496" stroke="#e4e4e4" stroke-width="1" stroke-dasharray="1 2"/>
<path d="M559 732.5 H1496" stroke="#e4e4e4" stroke-width="1" stroke-dasharray="1 2"/>
<path d="M559 727.5 H1496" stroke="#c6c6c6" stroke-width="1" stroke-dasharray="1 2"/>
<path d="M559 723.5 H1496" stroke="#e4e4e4" stroke-width="1" stroke-dasharray="1 2"/>
<path d="M559 718.5 H1496" stroke="#e4e4e4" stroke-width="1" stroke-dasharray="1 2"/>
<path d="M559 714.5 H1496" stroke="#e4e4e4" stroke-width="1" stroke-dasharray="1 2"/>
<path d="M559 710.5 H1496" stroke="#e4e4e4" stroke-width="1" stroke-dasharray="1 2"/>
<path d="M559 705.5 H1496" stroke="#c6c6c6" stroke-width="1" stroke-dasharray="1 2"/>
<path d="M559 701.5 H1496" stroke="#e4e4e4" stroke-width="1" stroke-dasharray="1 2"/>
<path d="M559 696.5 H1496" stroke="#e4e4e4" stroke-width="1" stroke-dasharray="1 2"/>
<path d="M559 692.5 H1496" stroke="#e4e4e4" stroke-width="1" stroke-dasharray="1 2"/>
<path d="M559 688.5 H1496" stroke="#e4e4e4" stroke-width="1" stroke-dasharray="1 2"/>
<path d="M650.5 685 V816" stroke="#e4e4e4" stroke-width="1" stroke-dasharray="1 2"/>
<path d="M744.5 685 V816" stroke="#c6c6c6" stroke-width="1" stroke-dasharray="1 2"/>
<path d="M838.5 685 V816" stroke="#e4e4e4" stroke-width="1" stroke-dasharray="1 2"/>
<path d="M932.5 685 V816" stroke="#c6c6c6" stroke-width="1" stroke-dasharray="1 2"/>
<path d="M1026.5 685 V816" stroke="#e4e4e4" stroke-width="1" stroke-dasharray="1 2"/>
<path d="M1120.5 685 V816" stroke="#c6c6c6" stroke-width="1" stroke-dasharray="1 2"/>
<path d="M1214.5 685 V816" stroke="#e4e4e4" stroke-width="1" stroke-dasharray="1 2"/>
<path d="M1308.5 685 V816" stroke="#c6c6c6" stroke-width="1" stroke-dasharray="1 2"/>
<path d="M1402.5 685 V816" stroke="#e4e4e4" stroke-width="1" stroke-dasharray="1 2"/>
<path d="M556.5 683.5 H1496.5 V816" stroke="#d2d2d2" stroke-width="1" fill="none"/>
<path d="M556.30 725.18 L575.10 725.70 L593.90 726.24 L612.69 726.80 L631.49 727.38 L650.29 727.96 L669.09 728.54 L687.89 729.13 L706.68 729.71 L725.48 730.27 L744.28 730.83 L763.08 731.36 L781.88 731.87 L800.67 732.34 L819.47 732.79 L838.27 733.19 L857.07 733.55 L875.87 733.87 L894.66 734.13 L913.46 734.33 L932.26 734.47 L951.06 734.54 L969.86 734.54 L988.65 734.47 L1007.45 734.31 L1026.25 734.07 L1045.05 733.74 L1063.85 733.31 L1082.64 732.78 L1101.44 732.15 L1120.24 731.41 L1139.04 730.56 L1157.84 729.58 L1176.63 728.49 L1195.43 727.26 L1214.23 725.90 L1233.03 724.41 L1251.83 722.77 L1270.62 720.99 L1289.42 719.05 L1308.22 716.96 L1327.02 714.71 L1345.82 712.29 L1364.61 709.71 L1383.41 706.94 L1402.21 704.00 L1421.01 700.87 L1439.81 697.56 L1458.60 694.05 L1477.40 690.34 L1492.44 687.23" stroke="#ec3434" stroke-width="2" fill="none" stroke-linejoin="round"/>
<path d="M556.30 746.39 L575.10 746.84 L593.90 747.31 L612.69 747.80 L631.49 748.30 L650.29 748.81 L669.09 749.33 L687.89 749.84 L706.68 750.36 L725.48 750.86 L744.28 751.35 L763.08 751.83 L781.88 752.29 L800.67 752.72 L819.47 753.12 L838.27 753.49 L857.07 753.82 L875.87 754.11 L894.66 754.35 L913.46 754.54 L932.26 754.68 L951.06 754.75 L969.86 754.77 L988.65 754.72 L1007.45 754.59 L1026.25 754.39 L1045.05 754.11 L1063.85 753.74 L1082.64 753.28 L1101.44 752.73 L1120.24 752.08 L1139.04 751.33 L1157.84 750.48 L1176.63 749.51 L1195.43 748.43 L1214.23 747.23 L1233.03 745.90 L1251.83 744.45 L1270.62 742.87 L1289.42 741.15 L1308.22 739.29 L1327.02 737.28 L1345.82 735.13 L1364.61 732.82 L1383.41 730.36 L1402.21 727.73 L1421.01 724.93 L1439.81 721.97 L1458.60 718.83 L1477.40 715.51 L1496.20 712.01" stroke="#2d7c9e" stroke-width="2" fill="none" stroke-linejoin="round"/>
<path d="M556.30 777.60 L575.10 777.99 L593.90 778.39 L612.69 778.80 L631.49 779.22 L650.29 779.64 L669.09 780.06 L687.89 780.48 L706.68 780.89 L725.48 781.29 L744.28 781.68 L763.08 782.06 L781.88 782.41 L800.67 782.75 L819.47 783.06 L838.27 783.34 L857.07 783.59 L875.87 783.80 L894.66 783.98 L913.46 784.11 L932.26 784.21 L951.06 784.25 L969.86 784.25 L988.65 784.19 L1007.45 784.08 L1026.25 783.91 L1045.05 783.68 L1063.85 783.38 L1082.64 783.01 L1101.44 782.57 L1120.24 782.05 L1139.04 781.46 L1157.84 780.79 L1176.63 780.03 L1195.43 779.19 L1214.23 778.25 L1233.03 777.22 L1251.83 776.10 L1270.62 774.87 L1289.42 773.54 L1308.22 772.11 L1327.02 770.57 L1345.82 768.91 L1364.61 767.14 L1383.41 765.25 L1402.21 763.24 L1421.01 761.11 L1439.81 758.85 L1458.60 756.46 L1477.40 753.93 L1496.20 751.27" stroke="#f6b03c" stroke-width="2" fill="none" stroke-linejoin="round"/>
<path d="M556.30 799.15 L575.10 799.44 L593.90 799.74 L612.69 800.04 L631.49 800.36 L650.29 800.67 L669.09 800.99 L687.89 801.30 L706.68 801.61 L725.48 801.91 L744.28 802.20 L763.08 802.48 L781.88 802.75 L800.67 803.00 L819.47 803.23 L838.27 803.44 L857.07 803.62 L875.87 803.78 L894.66 803.91 L913.46 804.01 L932.26 804.07 L951.06 804.10 L969.86 804.09 L988.65 804.04 L1007.45 803.94 L1026.25 803.80 L1045.05 803.61 L1063.85 803.36 L1082.64 803.07 L1101.44 802.72 L1120.24 802.31 L1139.04 801.84 L1157.84 801.31 L1176.63 800.71 L1195.43 800.04 L1214.23 799.30 L1233.03 798.49 L1251.83 797.60 L1270.62 796.64 L1289.42 795.59 L1308.22 794.47 L1327.02 793.25 L1345.82 791.95 L1364.61 790.56 L1383.41 789.08 L1402.21 787.50 L1421.01 785.82 L1439.81 784.05 L1458.60 782.17 L1477.40 780.19 L1496.20 778.09" stroke="#44b04e" stroke-width="2" fill="none" stroke-linejoin="round"/>
<path d="M556.5 683 V823.0" stroke="#000" stroke-width="1" fill="none"/>
<path d="M548.0 816.0 H1497" stroke="#000" stroke-width="1" fill="none"/>
<path d="M548.0 816.5 H556.5" stroke="#000" stroke-width="1"/>
<path d="M548.0 793.5 H556.5" stroke="#000" stroke-width="1"/>
<path d="M548.0 771.5 H556.5" stroke="#000" stroke-width="1"/>
<path d="M548.0 749.5 H556.5" stroke="#000" stroke-width="1"/>
<path d="M548.0 727.5 H556.5" stroke="#000" stroke-width="1"/>
<path d="M548.0 705.5 H556.5" stroke="#000" stroke-width="1"/>
<path d="M548.0 683.5 H556.5" stroke="#000" stroke-width="1"/>
<path d="M552.0 811.5 H556.5" stroke="#000" stroke-width="1"/>
<path d="M552.0 807.5 H556.5" stroke="#000" stroke-width="1"/>
<path d="M552.0 802.5 H556.5" stroke="#000" stroke-width="1"/>
<path d="M552.0 798.5 H556.5" stroke="#000" stroke-width="1"/>
<path d="M552.0 789.5 H556.5" stroke="#000" stroke-width="1"/>
<path d="M552.0 785.5 H556.5" stroke="#000" stroke-width="1"/>
<path d="M552.0 780.5 H556.5" stroke="#000" stroke-width="1"/>
<path d="M552.0 776.5 H556.5" stroke="#000" stroke-width="1"/>
<path d="M552.0 767.5 H556.5" stroke="#000" stroke-width="1"/>
<path d="M552.0 763.5 H556.5" stroke="#000" stroke-width="1"/>
<path d="M552.0 758.5 H556.5" stroke="#000" stroke-width="1"/>
<path d="M552.0 754.5 H556.5" stroke="#000" stroke-width="1"/>
<path d="M552.0 745.5 H556.5" stroke="#000" stroke-width="1"/>
<path d="M552.0 741.5 H556.5" stroke="#000" stroke-width="1"/>
<path d="M552.0 736.5 H556.5" stroke="#000" stroke-width="1"/>
<path d="M552.0 732.5 H556.5" stroke="#000" stroke-width="1"/>
<path d="M552.0 723.5 H556.5" stroke="#000" stroke-width="1"/>
<path d="M552.0 718.5 H556.5" stroke="#000" stroke-width="1"/>
<path d="M552.0 714.5 H556.5" stroke="#000" stroke-width="1"/>
<path d="M552.0 710.5 H556.5" stroke="#000" stroke-width="1"/>
<path d="M552.0 701.5 H556.5" stroke="#000" stroke-width="1"/>
<path d="M552.0 696.5 H556.5" stroke="#000" stroke-width="1"/>
<path d="M552.0 692.5 H556.5" stroke="#000" stroke-width="1"/>
<path d="M552.0 688.5 H556.5" stroke="#000" stroke-width="1"/>
<path d="M556.5 816.5 V823.0" stroke="#000" stroke-width="1"/>
<path d="M650.5 816.5 V820.0" stroke="#000" stroke-width="1"/>
<path d="M744.5 816.5 V823.0" stroke="#000" stroke-width="1"/>
<path d="M838.5 816.5 V820.0" stroke="#000" stroke-width="1"/>
<path d="M932.5 816.5 V823.0" stroke="#000" stroke-width="1"/>
<path d="M1026.5 816.5 V820.0" stroke="#000" stroke-width="1"/>
<path d="M1120.5 816.5 V823.0" stroke="#000" stroke-width="1"/>
<path d="M1214.5 816.5 V820.0" stroke="#000" stroke-width="1"/>
<path d="M1308.5 816.5 V823.0" stroke="#000" stroke-width="1"/>
<path d="M1402.5 816.5 V820.0" stroke="#000" stroke-width="1"/>
<path d="M1496.5 816.5 V823.0" stroke="#000" stroke-width="1"/>
<text x="544.0" y="820.80" text-anchor="end" font-family="Liberation Sans" font-weight="700" font-size="10" fill="#000">0.015</text>
<text x="544.0" y="797.80" text-anchor="end" font-family="Liberation Sans" font-weight="700" font-size="10" fill="#000">0.020</text>
<text x="544.0" y="775.80" text-anchor="end" font-family="Liberation Sans" font-weight="700" font-size="10" fill="#000">0.025</text>
<text x="544.0" y="753.80" text-anchor="end" font-family="Liberation Sans" font-weight="700" font-size="10" fill="#000">0.030</text>
<text x="544.0" y="731.80" text-anchor="end" font-family="Liberation Sans" font-weight="700" font-size="10" fill="#000">0.035</text>
<text x="544.0" y="709.80" text-anchor="end" font-family="Liberation Sans" font-weight="700" font-size="10" fill="#000">0.040</text>
<text x="544.0" y="687.80" text-anchor="end" font-family="Liberation Sans" font-weight="700" font-size="10" fill="#000">0.045</text>
<text x="556.30" y="834.0" text-anchor="middle" font-family="Liberation Sans" font-weight="700" font-size="10" fill="#000">0</text>
<text x="744.28" y="834.0" text-anchor="middle" font-family="Liberation Sans" font-weight="700" font-size="10" fill="#000">20</text>
<text x="932.26" y="834.0" text-anchor="middle" font-family="Liberation Sans" font-weight="700" font-size="10" fill="#000">40</text>
<text x="1120.24" y="834.0" text-anchor="middle" font-family="Liberation Sans" font-weight="700" font-size="10" fill="#000">60</text>
<text x="1308.22" y="834.0" text-anchor="middle" font-family="Liberation Sans" font-weight="700" font-size="10" fill="#000">80</text>
<text x="1496.20" y="834.0" text-anchor="middle" font-family="Liberation Sans" font-weight="700" font-size="10" fill="#000">100</text>
<text x="1025.15" y="849.8" text-anchor="middle" font-family="Liberation Sans" font-size="10.3" fill="#000">X: SoC [%]</text>
<text x="555.5" y="673.3" text-anchor="end" font-family="Liberation Sans" font-weight="700" font-size="10.2" fill="#000">[Ohm]</text>
<rect x="831.5" y="656.5" width="239.5" height="75.5" fill="#fff" stroke="#222" stroke-width="1"/>
<path d="M835 667.5 H852" stroke="#ec3434" stroke-width="2"/>
<text x="855.8" y="671.8" font-family="Liberation Sans" font-size="10.15" fill="#000">discharge ohmic resistance [Ohm] t1=10 degC</text>
<path d="M835 685.7 H852" stroke="#2d7c9e" stroke-width="2"/>
<text x="855.8" y="690.0" font-family="Liberation Sans" font-size="10.15" fill="#000">discharge ohmic resistance [Ohm] t1=20 degC</text>
<path d="M835 703.9 H852" stroke="#f6b03c" stroke-width="2"/>
<text x="855.8" y="708.2" font-family="Liberation Sans" font-size="10.15" fill="#000">discharge ohmic resistance [Ohm] t1=40 degC</text>
<path d="M835 722.1 H852" stroke="#44b04e" stroke-width="2"/>
<text x="855.8" y="726.4" font-family="Liberation Sans" font-size="10.15" fill="#000">discharge ohmic resistance [Ohm] t1=60 degC</text>
</svg>
<div class="t" style="left:498.80px;top:873.07px;font-size:10.2px;font-weight:400;color:#000;">Display parameters</div>
<div class="r" style="left:499px;top:889px;width:1033px;height:115px;background:#fff;border:1px solid #b4b4b4;box-sizing:border-box;"></div>
<div class="r" style="left:500px;top:890px;width:1031px;height:21px;background:#dadada;"></div>
<div class="r" style="left:500px;top:911px;width:1031px;height:1px;background:#b0b0b0;"></div>
<div class="r" style="left:593px;top:890px;width:1px;height:21px;background:#bcbcbc;"></div>
<div class="r" style="left:696px;top:890px;width:1px;height:21px;background:#bcbcbc;"></div>
<div class="t" style="left:504.20px;top:896.17px;font-size:10.2px;font-weight:400;color:#222;">Title</div>
<div class="t" style="left:598.10px;top:896.17px;font-size:10.2px;font-weight:400;color:#222;">Value</div>
<div class="t" style="left:700.80px;top:896.17px;font-size:10.2px;font-weight:400;color:#222;">Unit</div>
<div class="t" style="left:504.50px;top:917.17px;font-size:10.2px;font-weight:400;color:#000;">graph 1</div>
<div class="t" style="right:843.50px;top:916.37px;font-size:10.2px;font-weight:400;color:#000;text-align:right;">open circuit voltage</div>
<div class="r" style="left:500px;top:932px;width:1031px;height:20px;background:#f5f5f5;"></div>
<div class="t" style="left:504.50px;top:937.17px;font-size:10.2px;font-weight:400;color:#000;">graph 2</div>
<div class="t" style="right:843.50px;top:936.37px;font-size:10.2px;font-weight:400;color:#000;text-align:right;">entropic coefficient</div>
<div class="t" style="left:504.50px;top:957.17px;font-size:10.2px;font-weight:400;color:#000;">graph 3</div>
<div class="t" style="right:842.40px;top:955.27px;font-size:10.9px;font-weight:700;color:#000;text-align:right;">discharge ohmic resistance</div>
<svg style="left:983px;top:864px" width="66" height="3"><g fill="#b2b2b2"><rect x="0" y="0" width="1" height="1"/><rect x="0" y="2" width="1" height="1"/><rect x="2" y="0" width="1" height="1"/><rect x="2" y="2" width="1" height="1"/><rect x="4" y="0" width="1" height="1"/><rect x="4" y="2" width="1" height="1"/><rect x="6" y="0" width="1" height="1"/><rect x="6" y="2" width="1" height="1"/><rect x="8" y="0" width="1" height="1"/><rect x="8" y="2" width="1" height="1"/><rect x="10" y="0" width="1" height="1"/><rect x="10" y="2" width="1" height="1"/><rect x="12" y="0" width="1" height="1"/><rect x="12" y="2" width="1" height="1"/><rect x="14" y="0" width="1" height="1"/><rect x="14" y="2" width="1" height="1"/><rect x="16" y="0" width="1" height="1"/><rect x="16" y="2" width="1" height="1"/><rect x="18" y="0" width="1" height="1"/><rect x="18" y="2" width="1" height="1"/><rect x="20" y="0" width="1" height="1"/><rect x="20" y="2" width="1" height="1"/><rect x="22" y="0" width="1" height="1"/><rect x="22" y="2" width="1" height="1"/><rect x="24" y="0" width="1" height="1"/><rect x="24" y="2" width="1" height="1"/><rect x="26" y="0" width="1" height="1"/><rect x="26" y="2" width="1" height="1"/><rect x="28" y="0" width="1" height="1"/><rect x="28" y="2" width="1" height="1"/><rect x="30" y="0" width="1" height="1"/><rect x="30" y="2" width="1" height="1"/><rect x="32" y="0" width="1" height="1"/><rect x="32" y="2" width="1" height="1"/><rect x="34" y="0" width="1" height="1"/><rect x="34" y="2" width="1" height="1"/><rect x="36" y="0" width="1" height="1"/><rect x="36" y="2" width="1" height="1"/><rect x="38" y="0" width="1" height="1"/><rect x="38" y="2" width="1" height="1"/><rect x="40" y="0" width="1" height="1"/><rect x="40" y="2" width="1" height="1"/><rect x="42" y="0" width="1" height="1"/><rect x="42" y="2" width="1" height="1"/><rect x="44" y="0" width="1" height="1"/><rect x="44" y="2" width="1" height="1"/><rect x="46" y="0" width="1" height="1"/><rect x="46" y="2" width="1" height="1"/><rect x="48" y="0" width="1" height="1"/><rect x="48" y="2" width="1" height="1"/><rect x="50" y="0" width="1" height="1"/><rect x="50" y="2" width="1" height="1"/><rect x="52" y="0" width="1" height="1"/><rect x="52" y="2" width="1" height="1"/><rect x="54" y="0" width="1" height="1"/><rect x="54" y="2" width="1" height="1"/><rect x="56" y="0" width="1" height="1"/><rect x="56" y="2" width="1" height="1"/><rect x="58" y="0" width="1" height="1"/><rect x="58" y="2" width="1" height="1"/><rect x="60" y="0" width="1" height="1"/><rect x="60" y="2" width="1" height="1"/><rect x="62" y="0" width="1" height="1"/><rect x="62" y="2" width="1" height="1"/><rect x="64" y="0" width="1" height="1"/><rect x="64" y="2" width="1" height="1"/></g></svg>
<div class="r" style="left:1314px;top:1009px;width:69px;height:21px;background:#e1e1e1;border:1px solid #adadad;box-sizing:border-box;"></div>
<div class="t" style="left:1048.50px;width:600px;top:1015.67px;font-size:10.2px;font-weight:400;color:#000;text-align:center;">OK</div>
<div class="r" style="left:1388px;top:1009px;width:70px;height:21px;background:#e1e1e1;border:1px solid #adadad;box-sizing:border-box;"></div>
<div class="t" style="left:1123.00px;width:600px;top:1015.67px;font-size:10.2px;font-weight:400;color:#000;text-align:center;">Cancel</div>
<div class="r" style="left:1463px;top:1009px;width:69px;height:21px;background:#e1e1e1;border:1px solid #adadad;box-sizing:border-box;"></div>
<div class="t" style="left:1197.50px;width:600px;top:1015.67px;font-size:10.2px;font-weight:400;color:#000;text-align:center;">Apply</div>
</body></html>
